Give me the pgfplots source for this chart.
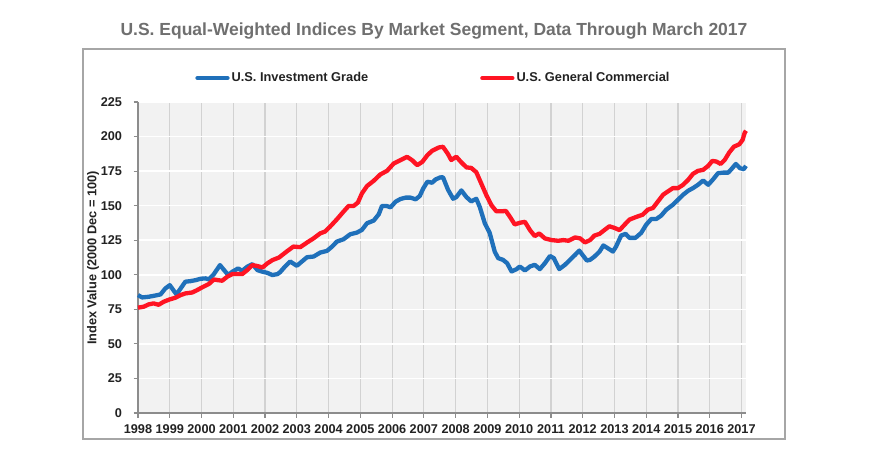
\documentclass[border=0pt]{standalone}
\usepackage{pgfplots}
\pgfplotsset{compat=1.18}
\usepackage{fontspec}
\setmainfont{Liberation Sans}

\definecolor{igblue}{HTML}{1F70BA}
\definecolor{gcred}{HTML}{FF1423}
\definecolor{plotbg}{HTML}{F2F2F2}
\definecolor{vgrid}{HTML}{D2D2D2}
\definecolor{axisgray}{HTML}{8C8C8C}
\definecolor{framegray}{HTML}{A6A6A6}
\definecolor{titlegray}{HTML}{6F6F6F}
\definecolor{labeldark}{HTML}{222222}

% U.S. Investment Grade index (year, value)
\pgfplotstableread{
x y
1998.00 85.3
1998.13 83.6
1998.34 84.1
1998.55 85.0
1998.71 85.8
1998.86 90.1
1999.00 92.5
1999.11 89.0
1999.21 85.8
1999.34 90.0
1999.49 95.0
1999.65 95.4
1999.81 96.1
1999.97 97.1
2000.13 97.4
2000.23 96.6
2000.39 100.5
2000.58 107.0
2000.71 103.4
2000.84 99.8
2000.97 102.2
2001.15 104.6
2001.28 102.9
2001.44 105.8
2001.60 107.7
2001.76 103.4
2001.92 102.2
2002.07 101.4
2002.23 99.8
2002.39 100.5
2002.47 101.8
2002.63 106.0
2002.79 109.6
2003.00 106.5
2003.16 109.6
2003.32 112.7
2003.53 113.2
2003.74 116.1
2003.95 117.3
2004.11 120.4
2004.26 124.0
2004.47 125.7
2004.68 129.3
2004.89 130.5
2005.05 132.5
2005.21 137.3
2005.42 139.2
2005.58 143.8
2005.68 149.8
2005.82 149.8
2005.95 148.8
2006.11 152.9
2006.26 154.8
2006.42 155.8
2006.58 155.8
2006.74 154.6
2006.87 157.0
2006.98 162.5
2007.11 167.3
2007.26 166.6
2007.37 169.0
2007.51 170.4
2007.60 170.6
2007.76 161.5
2007.92 155.0
2008.02 156.2
2008.18 161.0
2008.34 156.2
2008.49 153.1
2008.65 155.0
2008.76 149.0
2008.92 137.1
2009.07 130.4
2009.23 116.7
2009.34 112.0
2009.49 110.8
2009.62 108.4
2009.76 102.4
2009.92 104.1
2010.02 106.0
2010.18 103.1
2010.34 106.0
2010.49 107.2
2010.65 104.1
2010.81 108.4
2010.97 113.6
2011.09 112.0
2011.26 104.1
2011.44 107.2
2011.60 110.8
2011.76 114.4
2011.89 117.5
2012.02 113.6
2012.13 110.3
2012.23 110.8
2012.37 113.2
2012.53 116.8
2012.65 121.2
2012.79 119.2
2012.95 116.8
2013.05 120.4
2013.21 128.4
2013.35 129.6
2013.47 126.7
2013.66 126.7
2013.84 130.3
2014.00 136.3
2014.16 140.4
2014.32 140.4
2014.47 142.8
2014.63 147.1
2014.84 150.7
2015.00 154.3
2015.16 157.9
2015.32 160.8
2015.47 162.7
2015.63 165.1
2015.79 168.2
2015.95 165.1
2016.11 169.2
2016.26 173.5
2016.42 173.9
2016.58 173.9
2016.68 176.4
2016.82 180.2
2016.95 177.1
2017.07 176.4
2017.14 178.8
}\investmentgrade

% U.S. General Commercial index (year, value)
\pgfplotstableread{
x y
1998.00 76.2
1998.18 76.9
1998.34 78.6
1998.49 79.3
1998.65 78.3
1998.81 80.5
1999.00 82.2
1999.18 83.4
1999.34 85.3
1999.49 86.5
1999.71 87.2
1999.86 88.9
2000.02 90.9
2000.23 93.3
2000.39 96.6
2000.52 96.1
2000.65 95.7
2000.81 98.6
2000.97 100.5
2001.13 100.5
2001.28 100.5
2001.44 103.4
2001.60 107.0
2001.76 106.3
2001.92 105.3
2002.07 108.2
2002.23 110.6
2002.44 112.5
2002.68 116.8
2002.89 120.4
2003.11 120.0
2003.32 123.3
2003.53 126.4
2003.74 130.0
2003.89 131.3
2004.05 134.9
2004.26 140.1
2004.47 145.7
2004.63 149.8
2004.79 149.8
2004.92 152.2
2005.05 158.9
2005.21 164.2
2005.42 168.0
2005.63 172.6
2005.84 175.2
2006.05 180.5
2006.26 182.9
2006.47 185.3
2006.63 182.9
2006.79 179.3
2006.95 181.7
2007.11 186.5
2007.26 189.7
2007.47 192.1
2007.60 192.6
2007.76 187.3
2007.86 183.0
2008.02 185.4
2008.18 181.3
2008.34 177.7
2008.49 177.3
2008.65 174.2
2008.81 165.8
2008.97 157.4
2009.13 150.2
2009.28 145.9
2009.44 145.9
2009.58 146.2
2009.71 141.9
2009.86 136.4
2010.02 137.6
2010.18 138.3
2010.34 132.3
2010.49 128.0
2010.63 129.9
2010.81 126.3
2011.02 125.1
2011.23 124.6
2011.39 125.1
2011.55 124.6
2011.76 127.0
2011.92 126.3
2012.07 123.4
2012.23 125.1
2012.37 128.4
2012.53 129.6
2012.68 132.3
2012.84 135.1
2013.00 133.9
2013.16 132.3
2013.32 136.3
2013.47 139.9
2013.68 141.8
2013.89 143.5
2014.05 147.1
2014.21 148.3
2014.37 153.1
2014.53 157.9
2014.68 160.3
2014.84 162.7
2015.00 162.7
2015.16 165.1
2015.32 168.7
2015.47 173.0
2015.63 175.2
2015.79 175.9
2015.95 178.8
2016.08 182.4
2016.21 181.9
2016.34 180.2
2016.47 183.1
2016.61 188.4
2016.76 192.7
2016.93 194.4
2017.03 197.5
2017.10 202.8
2017.14 204.2
}\generalcommercial

\begin{document}
\begin{tikzpicture}
\useasboundingbox (0,0) rectangle (872bp,457bp);

% outer frame and title
\draw[framegray, line width=1.2bp] (83bp,18bp) rectangle (785bp,408bp);
\node[text=titlegray, font=\fontsize{17.5bp}{20bp}\selectfont\bfseries] at (434bp,426bp)
  {U.S. Equal-Weighted Indices By Market Segment, Data Through March 2017};
\node[rotate=90, text=labeldark, font=\fontsize{12.8bp}{14bp}\selectfont\bfseries] at (93bp,199bp)
  {Index Value (2000 Dec = 100)};

\begin{axis}[
  at={(138bp,44bp)}, anchor=south west,
  width=608bp, height=311bp, scale only axis,
  xmin=1998, xmax=2017.14,
  ymin=0, ymax=225,
  xtick={1998,1999,...,2017},
  ytick={0,25,...,225},
  /pgf/number format/assume math mode=true,
  /pgf/number format/1000 sep={},
  tick label style={font=\fontsize{12.7bp}{14bp}\selectfont\bfseries, text=labeldark},
  yticklabel style={xshift=-8bp},
  xticklabel style={yshift=-4bp},
  axis x line*=bottom, axis y line*=left,
  axis line style={axisgray, line width=1.4bp},
  tick style={axisgray, line width=1.2bp},
  tick align=outside, major tick length=4.5bp,
  axis background/.style={fill=plotbg},
  xmajorgrids, ymajorgrids,
  x grid style={vgrid, line width=1.2bp},
  y grid style={white, line width=1.6bp},
  clip=false,
  legend columns=2,
  legend style={draw=none, fill=none, at={(axis description cs:0.094,1.077)}, anchor=west,
    inner sep=0pt, font=\fontsize{12.8bp}{14bp}\selectfont\bfseries, text=labeldark,
    /tikz/every even column/.append style={column sep=110bp}},
  legend image code/.code={\draw[#1, line cap=round] (0bp,0bp) -- (30bp,0bp);},
]
\addplot[igblue, line width=4.3bp, line join=round] table {\investmentgrade};
\addlegendentry{U.S. Investment Grade}
\addplot[gcred, line width=4.3bp, line join=round] table {\generalcommercial};
\addlegendentry{U.S. General Commercial}
\end{axis}
\end{tikzpicture}
\end{document}
